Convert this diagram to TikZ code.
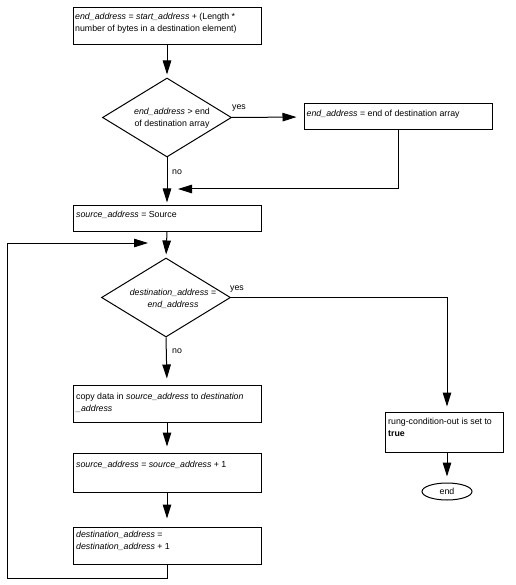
\documentclass[tikz,border=0pt]{standalone}
\usepackage{fontspec}
\setmainfont{Liberation Sans}
\usetikzlibrary{shapes.geometric,arrows.meta}
\begin{document}
\begin{tikzpicture}[x=1pt,y=-1pt,
  box/.style={draw,line width=1pt,inner sep=0},
  dia/.style={draw,diamond,line width=1pt,inner sep=0,minimum width=129pt,minimum height=79pt},
  txt/.style={anchor=north west,inner sep=0,align=left,font=\fontsize{8.8}{12}\selectfont},
  ctxt/.style={inner sep=0,align=center,font=\fontsize{8.8}{11.5}\selectfont},
  lbl/.style={inner sep=0,font=\fontsize{8.8}{10}\selectfont},
  arr/.style={-{Triangle[length=14pt,width=8.5pt]},line width=1pt}]
\useasboundingbox[fill=white] (0,0) rectangle (515,585);
% shapes
\node[box,minimum width=188pt,minimum height=37pt] (box1) at (167,26.5) {};
\node[dia] (d1) at (167,117.5) {};
\node[box,minimum width=188pt,minimum height=26pt] (box2) at (398,117) {};
\node[box,minimum width=188pt,minimum height=26pt] (box3) at (167,218) {};
\node[dia] (d2) at (166,297.5) {};
\node[box,minimum width=188pt,minimum height=37pt] (box4) at (167,403.5) {};
\node[box,minimum width=188pt,minimum height=39pt] (box5) at (167,472.5) {};
\node[box,minimum width=188pt,minimum height=37pt] (box6) at (167,545.5) {};
\node[box,minimum width=118pt,minimum height=40pt] (box7) at (444,432) {};
\node[draw,ellipse,line width=1pt,inner sep=0,minimum width=50pt,minimum height=17pt,font=\fontsize{8.8}{10}\selectfont] (endn) at (447,491.5) {end};
% texts
\node[txt] (t1) at (75,12.5) {\textit{end\_address} = \textit{start\_address} + (Length *\\number of bytes in a destination element)};
\node[ctxt] (t2) at (172,118) {\textit{end\_address} > end\\of destination array};
\node[txt] (t3) at (306.5,110) {\textit{end\_address} = end of destination array};
\node[txt] (t4) at (76,211) {\textit{source\_address} = Source};
\node[ctxt] (t5) at (173,299) {\textit{destination\_address} =\\\textit{end\_address}};
\node[txt] (t6) at (76,393) {copy data in \textit{source\_address} to \textit{destination}\\\textit{\_address}};
\node[txt] (t7) at (76,461) {\textit{source\_address} = \textit{source\_address} + 1};
\node[txt] (t8) at (76,531) {\textit{destination\_address} =\\\textit{destination\_address} + 1};
\node[txt] (t9) at (388,418) {rung-condition-out is set to\\\textbf{true}};
\node[lbl] (yes1) at (239,108) {yes};
\node[lbl] (no1) at (177,172) {no};
\node[lbl] (yes2) at (237,289) {yes};
\node[lbl] (no2) at (177,351) {no};
% coordinates
\coordinate (j1) at (178,189);
\coordinate (loopL) at (7,578);
\coordinate (loopEnd) at (148,243);
% connectors
\draw[arr,shorten >=3pt] (box1.south) -- (d1.north);
\draw[arr,shorten >=7pt] (d1.east) -- (box2.west);
\draw[arr] (box2.south) |- (j1);
\draw[arr,shorten >=2pt] (d1.south) -- (box3.north);
\draw[arr,shorten >=3pt] (box3.south) -- (d2.north);
\draw[arr] (box6.south) |- (loopL) |- (loopEnd);
\draw[arr,shorten >=5pt] (d2.east) -| (endn.north |- box7.north);
\draw[arr,shorten >=6pt] (d2.south) -- (box4.north);
\draw[arr,shorten >=6pt] (box4.south) -- (box5.north);
\draw[arr,shorten >=8pt] (box5.south) -- (box6.north);
\draw[arr,shorten >=6pt] (endn.north |- box7.south) -- (endn.north);
\end{tikzpicture}
\end{document}
